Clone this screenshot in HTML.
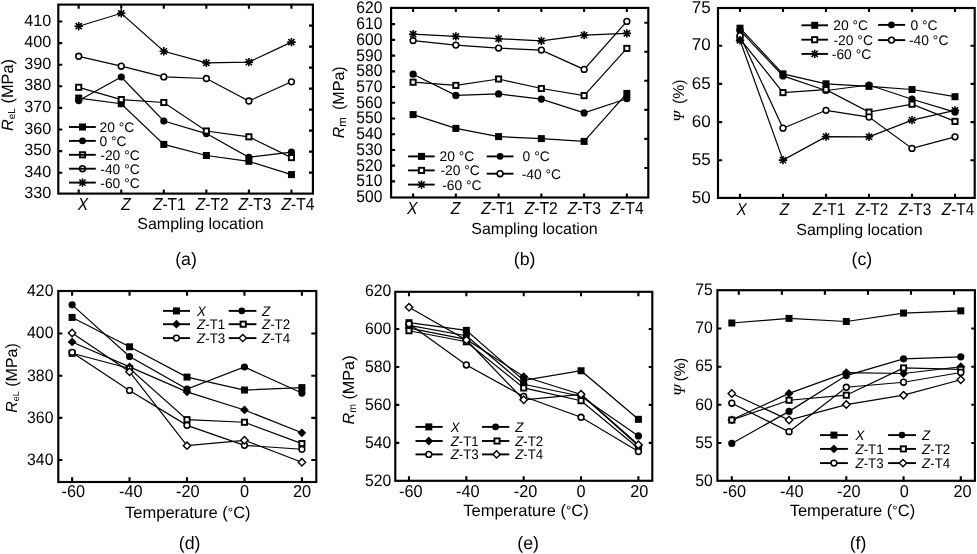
<!DOCTYPE html>
<html lang="en"><head><meta charset="utf-8"><title>Figure</title>
<style>
html,body{margin:0;padding:0;background:#fff;}
body{width:977px;height:554px;overflow:hidden;font-family:"Liberation Sans",sans-serif;}
svg{display:block;}
</style></head><body>
<svg width="977" height="554" viewBox="0 0 977 554" shape-rendering="geometricPrecision" text-rendering="geometricPrecision">
<rect x="58.30" y="4.60" width="254.60" height="189.00" fill="none" stroke="#000" stroke-width="2.15"/>
<path d="M78.70 4.60v4.10M121.25 4.60v4.10M163.80 4.60v4.10M206.35 4.60v4.10M248.90 4.60v4.10M291.45 4.60v4.10" stroke="#000" stroke-width="2.1" fill="none"/>
<path d="M78.70 193.60v-4.10M121.25 193.60v-4.10M163.80 193.60v-4.10M206.35 193.60v-4.10M248.90 193.60v-4.10M291.45 193.60v-4.10" stroke="#000" stroke-width="2.1" fill="none"/>
<path d="M58.30 21.50h3.90M58.30 43.10h3.90M58.30 64.70h3.90M58.30 86.30h3.90M58.30 107.90h3.90M58.30 129.50h3.90M58.30 151.10h3.90M58.30 172.70h3.90" stroke="#000" stroke-width="2.1" fill="none"/>
<path d="M312.90 25.60h-3.90M312.90 46.60h-3.90M312.90 67.60h-3.90M312.90 88.60h-3.90M312.90 109.60h-3.90M312.90 130.60h-3.90M312.90 151.60h-3.90M312.90 172.60h-3.90" stroke="#000" stroke-width="2.1" fill="none"/>
<text x="51.30" y="25.68" font-size="16.2" text-anchor="end" fill="#000" font-family='"Liberation Sans", sans-serif' >410</text>
<text x="51.30" y="47.28" font-size="16.2" text-anchor="end" fill="#000" font-family='"Liberation Sans", sans-serif' >400</text>
<text x="51.30" y="68.88" font-size="16.2" text-anchor="end" fill="#000" font-family='"Liberation Sans", sans-serif' >390</text>
<text x="51.30" y="90.48" font-size="16.2" text-anchor="end" fill="#000" font-family='"Liberation Sans", sans-serif' >380</text>
<text x="51.30" y="112.08" font-size="16.2" text-anchor="end" fill="#000" font-family='"Liberation Sans", sans-serif' >370</text>
<text x="51.30" y="133.68" font-size="16.2" text-anchor="end" fill="#000" font-family='"Liberation Sans", sans-serif' >360</text>
<text x="51.30" y="155.28" font-size="16.2" text-anchor="end" fill="#000" font-family='"Liberation Sans", sans-serif' >350</text>
<text x="51.30" y="176.88" font-size="16.2" text-anchor="end" fill="#000" font-family='"Liberation Sans", sans-serif' >340</text>
<text x="51.30" y="198.48" font-size="16.2" text-anchor="end" fill="#000" font-family='"Liberation Sans", sans-serif' >330</text>
<text transform="translate(82.90 209.60) scale(0.9 1)" font-size="17.3" text-anchor="middle" fill="#000" font-family='"Liberation Sans", sans-serif' ><tspan font-style="italic">X</tspan></text>
<text transform="translate(126.05 209.60) scale(0.9 1)" font-size="17.3" text-anchor="middle" fill="#000" font-family='"Liberation Sans", sans-serif' ><tspan font-style="italic">Z</tspan></text>
<text transform="translate(169.30 209.60) scale(0.9 1)" font-size="17.3" text-anchor="middle" fill="#000" font-family='"Liberation Sans", sans-serif' ><tspan font-style="italic">Z</tspan>-T1</text>
<text transform="translate(212.25 209.60) scale(0.9 1)" font-size="17.3" text-anchor="middle" fill="#000" font-family='"Liberation Sans", sans-serif' ><tspan font-style="italic">Z</tspan>-T2</text>
<text transform="translate(254.90 209.60) scale(0.9 1)" font-size="17.3" text-anchor="middle" fill="#000" font-family='"Liberation Sans", sans-serif' ><tspan font-style="italic">Z</tspan>-T3</text>
<text transform="translate(297.95 209.60) scale(0.9 1)" font-size="17.3" text-anchor="middle" fill="#000" font-family='"Liberation Sans", sans-serif' ><tspan font-style="italic">Z</tspan>-T4</text>
<text x="200.50" y="229.40" font-size="16.05" text-anchor="middle" fill="#000" font-family='"Liberation Sans", sans-serif' >Sampling location</text>
<text x="186.00" y="265.20" font-size="17.8" text-anchor="middle" fill="#000" font-family='"Liberation Sans", sans-serif' >(a)</text>
<polyline points="78.70,98.10 121.25,103.70 163.80,144.40 206.35,155.50 248.90,161.30 291.45,174.60" fill="none" stroke="#000" stroke-width="1.2"/>
<rect x="75.20" y="94.60" width="7.00" height="7.00" fill="#000"/>
<rect x="117.75" y="100.20" width="7.00" height="7.00" fill="#000"/>
<rect x="160.30" y="140.90" width="7.00" height="7.00" fill="#000"/>
<rect x="202.85" y="152.00" width="7.00" height="7.00" fill="#000"/>
<rect x="245.40" y="157.80" width="7.00" height="7.00" fill="#000"/>
<rect x="287.95" y="171.10" width="7.00" height="7.00" fill="#000"/>
<polyline points="78.70,100.60 121.25,77.00 163.80,121.00 206.35,133.60 248.90,157.30 291.45,152.10" fill="none" stroke="#000" stroke-width="1.2"/>
<circle cx="78.70" cy="100.60" r="3.60" fill="#000"/>
<circle cx="121.25" cy="77.00" r="3.60" fill="#000"/>
<circle cx="163.80" cy="121.00" r="3.60" fill="#000"/>
<circle cx="206.35" cy="133.60" r="3.60" fill="#000"/>
<circle cx="248.90" cy="157.30" r="3.60" fill="#000"/>
<circle cx="291.45" cy="152.10" r="3.60" fill="#000"/>
<polyline points="78.70,87.30 121.25,99.60 163.80,102.50 206.35,131.00 248.90,136.80 291.45,157.60" fill="none" stroke="#000" stroke-width="1.2"/>
<rect x="76.10" y="84.70" width="5.20" height="5.20" fill="#fff" stroke="#000" stroke-width="1.9"/>
<rect x="118.65" y="97.00" width="5.20" height="5.20" fill="#fff" stroke="#000" stroke-width="1.9"/>
<rect x="161.20" y="99.90" width="5.20" height="5.20" fill="#fff" stroke="#000" stroke-width="1.9"/>
<rect x="203.75" y="128.40" width="5.20" height="5.20" fill="#fff" stroke="#000" stroke-width="1.9"/>
<rect x="246.30" y="134.20" width="5.20" height="5.20" fill="#fff" stroke="#000" stroke-width="1.9"/>
<rect x="288.85" y="155.00" width="5.20" height="5.20" fill="#fff" stroke="#000" stroke-width="1.9"/>
<polyline points="78.70,56.30 121.25,66.20 163.80,76.90 206.35,78.50 248.90,101.00 291.45,81.80" fill="none" stroke="#000" stroke-width="1.2"/>
<circle cx="78.70" cy="56.30" r="2.90" fill="#fff" stroke="#000" stroke-width="1.55"/>
<circle cx="121.25" cy="66.20" r="2.90" fill="#fff" stroke="#000" stroke-width="1.55"/>
<circle cx="163.80" cy="76.90" r="2.90" fill="#fff" stroke="#000" stroke-width="1.55"/>
<circle cx="206.35" cy="78.50" r="2.90" fill="#fff" stroke="#000" stroke-width="1.55"/>
<circle cx="248.90" cy="101.00" r="2.90" fill="#fff" stroke="#000" stroke-width="1.55"/>
<circle cx="291.45" cy="81.80" r="2.90" fill="#fff" stroke="#000" stroke-width="1.55"/>
<polyline points="78.70,26.20 121.25,13.30 163.80,51.30 206.35,62.90 248.90,62.10 291.45,42.10" fill="none" stroke="#000" stroke-width="1.2"/>
<path d="M78.70 22.00V30.40M74.50 26.20H82.90M75.60 23.10L81.80 29.30M75.60 29.30L81.80 23.10" stroke="#000" stroke-width="1.6" fill="none"/>
<path d="M121.25 9.10V17.50M117.05 13.30H125.45M118.15 10.20L124.35 16.40M118.15 16.40L124.35 10.20" stroke="#000" stroke-width="1.6" fill="none"/>
<path d="M163.80 47.10V55.50M159.60 51.30H168.00M160.70 48.20L166.90 54.40M160.70 54.40L166.90 48.20" stroke="#000" stroke-width="1.6" fill="none"/>
<path d="M206.35 58.70V67.10M202.15 62.90H210.55M203.25 59.80L209.45 66.00M203.25 66.00L209.45 59.80" stroke="#000" stroke-width="1.6" fill="none"/>
<path d="M248.90 57.90V66.30M244.70 62.10H253.10M245.80 59.00L252.00 65.20M245.80 65.20L252.00 59.00" stroke="#000" stroke-width="1.6" fill="none"/>
<path d="M291.45 37.90V46.30M287.25 42.10H295.65M288.35 39.00L294.55 45.20M288.35 45.20L294.55 39.00" stroke="#000" stroke-width="1.6" fill="none"/>
<text transform="translate(12.60 95.00) rotate(-90)" font-size="16.4" text-anchor="middle" fill="#000" font-family='"Liberation Sans", sans-serif'><tspan font-style="italic">R</tspan><tspan font-size="10.0" dy="2">eL</tspan><tspan dy="-2" dx="0"> (MPa)</tspan></text>
<rect x="79.00" y="123.50" width="7.00" height="7.00" fill="#000"/><path d="M69.00 127.00H95.80" stroke="#000" stroke-width="1.9"/><text x="99.50" y="131.99" font-size="13.85" text-anchor="start" fill="#000" font-family='"Liberation Sans", sans-serif' >20 °C</text>
<circle cx="82.50" cy="140.90" r="3.31" fill="#000"/><path d="M69.00 140.90H95.80" stroke="#000" stroke-width="1.9"/><text x="99.50" y="145.89" font-size="13.85" text-anchor="start" fill="#000" font-family='"Liberation Sans", sans-serif' >0 °C</text>
<rect x="79.90" y="152.20" width="5.20" height="5.20" fill="#fff" stroke="#000" stroke-width="1.9"/><path d="M69.00 154.80H95.80" stroke="#000" stroke-width="1.9"/><text x="100.30" y="159.79" font-size="13.85" text-anchor="start" fill="#000" font-family='"Liberation Sans", sans-serif' >-20 °C</text>
<circle cx="82.50" cy="168.70" r="2.90" fill="#fff" stroke="#000" stroke-width="1.55"/><path d="M69.00 168.70H95.80" stroke="#000" stroke-width="1.9"/><text x="100.30" y="173.69" font-size="13.85" text-anchor="start" fill="#000" font-family='"Liberation Sans", sans-serif' >-40 °C</text>
<path d="M82.50 178.40V186.80M78.30 182.60H86.70M79.40 179.50L85.60 185.70M79.40 185.70L85.60 179.50" stroke="#000" stroke-width="1.6" fill="none"/><path d="M69.00 182.60H95.80" stroke="#000" stroke-width="1.9"/><text x="100.30" y="187.59" font-size="13.85" text-anchor="start" fill="#000" font-family='"Liberation Sans", sans-serif' >-60 °C</text>
<rect x="391.10" y="7.90" width="257.20" height="189.60" fill="none" stroke="#000" stroke-width="2.15"/>
<path d="M413.10 7.90v4.10M455.85 7.90v4.10M498.60 7.90v4.10M541.35 7.90v4.10M584.10 7.90v4.10M626.85 7.90v4.10" stroke="#000" stroke-width="2.1" fill="none"/>
<path d="M413.10 197.50v-4.10M455.85 197.50v-4.10M498.60 197.50v-4.10M541.35 197.50v-4.10M584.10 197.50v-4.10M626.85 197.50v-4.10" stroke="#000" stroke-width="2.1" fill="none"/>
<path d="M391.10 24.17h4.00M391.10 39.89h4.00M391.10 55.61h4.00M391.10 71.33h4.00M391.10 87.05h4.00M391.10 102.77h4.00M391.10 118.49h4.00M391.10 134.21h4.00M391.10 149.93h4.00M391.10 165.65h4.00M391.10 181.37h4.00" stroke="#000" stroke-width="2.1" fill="none"/>
<path d="M648.30 22.70h-4.00M648.30 51.75h-4.00M648.30 80.80h-4.00M648.30 109.85h-4.00M648.30 138.90h-4.00M648.30 167.95h-4.00" stroke="#000" stroke-width="2.1" fill="none"/>
<text transform="translate(382.40 13.37) scale(0.926 1)" font-size="16.85" text-anchor="end" fill="#000" font-family='"Liberation Sans", sans-serif' >620</text>
<text transform="translate(382.40 29.09) scale(0.926 1)" font-size="16.85" text-anchor="end" fill="#000" font-family='"Liberation Sans", sans-serif' >610</text>
<text transform="translate(382.40 44.81) scale(0.926 1)" font-size="16.85" text-anchor="end" fill="#000" font-family='"Liberation Sans", sans-serif' >600</text>
<text transform="translate(382.40 60.53) scale(0.926 1)" font-size="16.85" text-anchor="end" fill="#000" font-family='"Liberation Sans", sans-serif' >590</text>
<text transform="translate(382.40 76.25) scale(0.926 1)" font-size="16.85" text-anchor="end" fill="#000" font-family='"Liberation Sans", sans-serif' >580</text>
<text transform="translate(382.40 91.97) scale(0.926 1)" font-size="16.85" text-anchor="end" fill="#000" font-family='"Liberation Sans", sans-serif' >570</text>
<text transform="translate(382.40 107.69) scale(0.926 1)" font-size="16.85" text-anchor="end" fill="#000" font-family='"Liberation Sans", sans-serif' >560</text>
<text transform="translate(382.40 123.41) scale(0.926 1)" font-size="16.85" text-anchor="end" fill="#000" font-family='"Liberation Sans", sans-serif' >550</text>
<text transform="translate(382.40 139.13) scale(0.926 1)" font-size="16.85" text-anchor="end" fill="#000" font-family='"Liberation Sans", sans-serif' >540</text>
<text transform="translate(382.40 154.85) scale(0.926 1)" font-size="16.85" text-anchor="end" fill="#000" font-family='"Liberation Sans", sans-serif' >530</text>
<text transform="translate(382.40 170.57) scale(0.926 1)" font-size="16.85" text-anchor="end" fill="#000" font-family='"Liberation Sans", sans-serif' >520</text>
<text transform="translate(382.40 186.29) scale(0.926 1)" font-size="16.85" text-anchor="end" fill="#000" font-family='"Liberation Sans", sans-serif' >510</text>
<text transform="translate(382.40 202.01) scale(0.926 1)" font-size="16.85" text-anchor="end" fill="#000" font-family='"Liberation Sans", sans-serif' >500</text>
<text transform="translate(412.20 213.70) scale(0.91 1)" font-size="17.3" text-anchor="middle" fill="#000" font-family='"Liberation Sans", sans-serif' ><tspan font-style="italic">X</tspan></text>
<text transform="translate(455.45 213.70) scale(0.91 1)" font-size="17.3" text-anchor="middle" fill="#000" font-family='"Liberation Sans", sans-serif' ><tspan font-style="italic">Z</tspan></text>
<text transform="translate(497.90 213.70) scale(0.91 1)" font-size="17.3" text-anchor="middle" fill="#000" font-family='"Liberation Sans", sans-serif' ><tspan font-style="italic">Z</tspan>-T1</text>
<text transform="translate(541.25 213.70) scale(0.91 1)" font-size="17.3" text-anchor="middle" fill="#000" font-family='"Liberation Sans", sans-serif' ><tspan font-style="italic">Z</tspan>-T2</text>
<text transform="translate(584.30 213.70) scale(0.91 1)" font-size="17.3" text-anchor="middle" fill="#000" font-family='"Liberation Sans", sans-serif' ><tspan font-style="italic">Z</tspan>-T3</text>
<text transform="translate(627.05 213.70) scale(0.91 1)" font-size="17.3" text-anchor="middle" fill="#000" font-family='"Liberation Sans", sans-serif' ><tspan font-style="italic">Z</tspan>-T4</text>
<text x="534.50" y="233.80" font-size="16.05" text-anchor="middle" fill="#000" font-family='"Liberation Sans", sans-serif' >Sampling location</text>
<text x="524.60" y="265.20" font-size="17.8" text-anchor="middle" fill="#000" font-family='"Liberation Sans", sans-serif' >(b)</text>
<polyline points="413.10,114.60 455.85,128.40 498.60,136.60 541.35,138.60 584.10,141.40 626.85,93.40" fill="none" stroke="#000" stroke-width="1.2"/>
<rect x="409.60" y="111.10" width="7.00" height="7.00" fill="#000"/>
<rect x="452.35" y="124.90" width="7.00" height="7.00" fill="#000"/>
<rect x="495.10" y="133.10" width="7.00" height="7.00" fill="#000"/>
<rect x="537.85" y="135.10" width="7.00" height="7.00" fill="#000"/>
<rect x="580.60" y="137.90" width="7.00" height="7.00" fill="#000"/>
<rect x="623.35" y="89.90" width="7.00" height="7.00" fill="#000"/>
<polyline points="413.10,74.20 455.85,95.40 498.60,93.90 541.35,99.10 584.10,112.90 626.85,98.70" fill="none" stroke="#000" stroke-width="1.2"/>
<circle cx="413.10" cy="74.20" r="3.60" fill="#000"/>
<circle cx="455.85" cy="95.40" r="3.60" fill="#000"/>
<circle cx="498.60" cy="93.90" r="3.60" fill="#000"/>
<circle cx="541.35" cy="99.10" r="3.60" fill="#000"/>
<circle cx="584.10" cy="112.90" r="3.60" fill="#000"/>
<circle cx="626.85" cy="98.70" r="3.60" fill="#000"/>
<polyline points="413.10,82.20 455.85,85.40 498.60,79.00 541.35,88.50 584.10,95.60 626.85,48.40" fill="none" stroke="#000" stroke-width="1.2"/>
<rect x="410.50" y="79.60" width="5.20" height="5.20" fill="#fff" stroke="#000" stroke-width="1.9"/>
<rect x="453.25" y="82.80" width="5.20" height="5.20" fill="#fff" stroke="#000" stroke-width="1.9"/>
<rect x="496.00" y="76.40" width="5.20" height="5.20" fill="#fff" stroke="#000" stroke-width="1.9"/>
<rect x="538.75" y="85.90" width="5.20" height="5.20" fill="#fff" stroke="#000" stroke-width="1.9"/>
<rect x="581.50" y="93.00" width="5.20" height="5.20" fill="#fff" stroke="#000" stroke-width="1.9"/>
<rect x="624.25" y="45.80" width="5.20" height="5.20" fill="#fff" stroke="#000" stroke-width="1.9"/>
<polyline points="413.10,40.60 455.85,45.10 498.60,48.10 541.35,50.10 584.10,69.40 626.85,21.40" fill="none" stroke="#000" stroke-width="1.2"/>
<circle cx="413.10" cy="40.60" r="2.90" fill="#fff" stroke="#000" stroke-width="1.55"/>
<circle cx="455.85" cy="45.10" r="2.90" fill="#fff" stroke="#000" stroke-width="1.55"/>
<circle cx="498.60" cy="48.10" r="2.90" fill="#fff" stroke="#000" stroke-width="1.55"/>
<circle cx="541.35" cy="50.10" r="2.90" fill="#fff" stroke="#000" stroke-width="1.55"/>
<circle cx="584.10" cy="69.40" r="2.90" fill="#fff" stroke="#000" stroke-width="1.55"/>
<circle cx="626.85" cy="21.40" r="2.90" fill="#fff" stroke="#000" stroke-width="1.55"/>
<polyline points="413.10,34.20 455.85,36.40 498.60,38.70 541.35,40.90 584.10,35.10 626.85,33.40" fill="none" stroke="#000" stroke-width="1.2"/>
<path d="M413.10 30.00V38.40M408.90 34.20H417.30M410.00 31.10L416.20 37.30M410.00 37.30L416.20 31.10" stroke="#000" stroke-width="1.6" fill="none"/>
<path d="M455.85 32.20V40.60M451.65 36.40H460.05M452.75 33.30L458.95 39.50M452.75 39.50L458.95 33.30" stroke="#000" stroke-width="1.6" fill="none"/>
<path d="M498.60 34.50V42.90M494.40 38.70H502.80M495.50 35.60L501.70 41.80M495.50 41.80L501.70 35.60" stroke="#000" stroke-width="1.6" fill="none"/>
<path d="M541.35 36.70V45.10M537.15 40.90H545.55M538.25 37.80L544.45 44.00M538.25 44.00L544.45 37.80" stroke="#000" stroke-width="1.6" fill="none"/>
<path d="M584.10 30.90V39.30M579.90 35.10H588.30M581.00 32.00L587.20 38.20M581.00 38.20L587.20 32.00" stroke="#000" stroke-width="1.6" fill="none"/>
<path d="M626.85 29.20V37.60M622.65 33.40H631.05M623.75 30.30L629.95 36.50M623.75 36.50L629.95 30.30" stroke="#000" stroke-width="1.6" fill="none"/>
<text transform="translate(344.30 102.30) rotate(-90)" font-size="16.1" text-anchor="middle" fill="#000" font-family='"Liberation Sans", sans-serif'><tspan font-style="italic">R</tspan><tspan font-size="11.5" dy="2">m</tspan><tspan dy="-2" dx="2.5"> (MPa)</tspan></text>
<path d="M408.10 156.40H434.70" stroke="#000" stroke-width="1.9"/><rect x="418.00" y="152.90" width="7.00" height="7.00" fill="#000"/><text x="439.60" y="161.39" font-size="13.85" text-anchor="start" fill="#000" font-family='"Liberation Sans", sans-serif' >20 °C</text>
<path d="M408.10 170.40H434.70" stroke="#000" stroke-width="1.9"/><rect x="418.90" y="167.80" width="5.20" height="5.20" fill="#fff" stroke="#000" stroke-width="1.9"/><text x="440.40" y="175.39" font-size="13.85" text-anchor="start" fill="#000" font-family='"Liberation Sans", sans-serif' >-20 °C</text>
<path d="M408.10 184.60H434.70" stroke="#000" stroke-width="1.9"/><path d="M421.50 180.40V188.80M417.30 184.60H425.70M418.40 181.50L424.60 187.70M418.40 187.70L424.60 181.50" stroke="#000" stroke-width="1.6" fill="none"/><text x="442.20" y="189.59" font-size="13.85" text-anchor="start" fill="#000" font-family='"Liberation Sans", sans-serif' >-60 °C</text>
<path d="M486.70 156.40H513.50" stroke="#000" stroke-width="1.9"/><circle cx="500.10" cy="156.40" r="3.31" fill="#000"/><text x="522.60" y="161.39" font-size="13.85" text-anchor="start" fill="#000" font-family='"Liberation Sans", sans-serif' >0 °C</text>
<path d="M486.70 173.70H513.50" stroke="#000" stroke-width="1.9"/><circle cx="500.10" cy="173.70" r="2.90" fill="#fff" stroke="#000" stroke-width="1.55"/><text x="521.70" y="178.69" font-size="13.85" text-anchor="start" fill="#000" font-family='"Liberation Sans", sans-serif' >-40 °C</text>
<rect x="718.00" y="8.00" width="256.70" height="189.90" fill="none" stroke="#000" stroke-width="2.15"/>
<path d="M740.00 8.00v4.10M783.00 8.00v4.10M826.00 8.00v4.10M869.00 8.00v4.10M912.00 8.00v4.10M955.00 8.00v4.10" stroke="#000" stroke-width="2.1" fill="none"/>
<path d="M740.00 197.90v-4.10M783.00 197.90v-4.10M826.00 197.90v-4.10M869.00 197.90v-4.10M912.00 197.90v-4.10M955.00 197.90v-4.10" stroke="#000" stroke-width="2.1" fill="none"/>
<path d="M718.00 45.80h4.20M718.00 83.90h4.20M718.00 122.10h4.20M718.00 160.30h4.20" stroke="#000" stroke-width="2.1" fill="none"/>
<path d="M974.70 45.80h-4.20M974.70 83.90h-4.20M974.70 122.10h-4.20M974.70 160.30h-4.20" stroke="#000" stroke-width="2.1" fill="none"/>
<text x="710.60" y="12.52" font-size="17.0" text-anchor="end" fill="#000" font-family='"Liberation Sans", sans-serif' >75</text>
<text x="710.60" y="50.42" font-size="17.0" text-anchor="end" fill="#000" font-family='"Liberation Sans", sans-serif' >70</text>
<text x="710.60" y="88.52" font-size="17.0" text-anchor="end" fill="#000" font-family='"Liberation Sans", sans-serif' >65</text>
<text x="710.60" y="126.72" font-size="17.0" text-anchor="end" fill="#000" font-family='"Liberation Sans", sans-serif' >60</text>
<text x="710.60" y="164.92" font-size="17.0" text-anchor="end" fill="#000" font-family='"Liberation Sans", sans-serif' >55</text>
<text x="710.60" y="202.52" font-size="17.0" text-anchor="end" fill="#000" font-family='"Liberation Sans", sans-serif' >50</text>
<text transform="translate(741.50 214.80) scale(0.9 1)" font-size="17.0" text-anchor="middle" fill="#000" font-family='"Liberation Sans", sans-serif' ><tspan font-style="italic">X</tspan></text>
<text transform="translate(784.50 214.80) scale(0.9 1)" font-size="17.0" text-anchor="middle" fill="#000" font-family='"Liberation Sans", sans-serif' ><tspan font-style="italic">Z</tspan></text>
<text transform="translate(829.00 214.80) scale(0.9 1)" font-size="17.0" text-anchor="middle" fill="#000" font-family='"Liberation Sans", sans-serif' ><tspan font-style="italic">Z</tspan>-T1</text>
<text transform="translate(872.00 214.80) scale(0.9 1)" font-size="17.0" text-anchor="middle" fill="#000" font-family='"Liberation Sans", sans-serif' ><tspan font-style="italic">Z</tspan>-T2</text>
<text transform="translate(915.00 214.80) scale(0.9 1)" font-size="17.0" text-anchor="middle" fill="#000" font-family='"Liberation Sans", sans-serif' ><tspan font-style="italic">Z</tspan>-T3</text>
<text transform="translate(958.00 214.80) scale(0.9 1)" font-size="17.0" text-anchor="middle" fill="#000" font-family='"Liberation Sans", sans-serif' ><tspan font-style="italic">Z</tspan>-T4</text>
<text x="859.50" y="234.50" font-size="16.05" text-anchor="middle" fill="#000" font-family='"Liberation Sans", sans-serif' >Sampling location</text>
<text x="861.90" y="265.20" font-size="17.8" text-anchor="middle" fill="#000" font-family='"Liberation Sans", sans-serif' >(c)</text>
<polyline points="740.00,28.20 783.00,73.90 826.00,83.80 869.00,86.40 912.00,89.50 955.00,96.70" fill="none" stroke="#000" stroke-width="1.2"/>
<rect x="736.50" y="24.70" width="7.00" height="7.00" fill="#000"/>
<rect x="779.50" y="70.40" width="7.00" height="7.00" fill="#000"/>
<rect x="822.50" y="80.30" width="7.00" height="7.00" fill="#000"/>
<rect x="865.50" y="82.90" width="7.00" height="7.00" fill="#000"/>
<rect x="908.50" y="86.00" width="7.00" height="7.00" fill="#000"/>
<rect x="951.50" y="93.20" width="7.00" height="7.00" fill="#000"/>
<polyline points="740.00,30.40 783.00,75.90 826.00,90.50 869.00,85.00 912.00,99.20 955.00,112.10" fill="none" stroke="#000" stroke-width="1.2"/>
<circle cx="740.00" cy="30.40" r="3.60" fill="#000"/>
<circle cx="783.00" cy="75.90" r="3.60" fill="#000"/>
<circle cx="826.00" cy="90.50" r="3.60" fill="#000"/>
<circle cx="869.00" cy="85.00" r="3.60" fill="#000"/>
<circle cx="912.00" cy="99.20" r="3.60" fill="#000"/>
<circle cx="955.00" cy="112.10" r="3.60" fill="#000"/>
<polyline points="740.00,38.80 783.00,92.60 826.00,89.60 869.00,112.10 912.00,104.20 955.00,121.40" fill="none" stroke="#000" stroke-width="1.2"/>
<rect x="737.40" y="36.20" width="5.20" height="5.20" fill="#fff" stroke="#000" stroke-width="1.9"/>
<rect x="780.40" y="90.00" width="5.20" height="5.20" fill="#fff" stroke="#000" stroke-width="1.9"/>
<rect x="823.40" y="87.00" width="5.20" height="5.20" fill="#fff" stroke="#000" stroke-width="1.9"/>
<rect x="866.40" y="109.50" width="5.20" height="5.20" fill="#fff" stroke="#000" stroke-width="1.9"/>
<rect x="909.40" y="101.60" width="5.20" height="5.20" fill="#fff" stroke="#000" stroke-width="1.9"/>
<rect x="952.40" y="118.80" width="5.20" height="5.20" fill="#fff" stroke="#000" stroke-width="1.9"/>
<polyline points="740.00,35.70 783.00,128.20 826.00,110.30 869.00,117.10 912.00,148.40 955.00,136.80" fill="none" stroke="#000" stroke-width="1.2"/>
<circle cx="740.00" cy="35.70" r="2.90" fill="#fff" stroke="#000" stroke-width="1.55"/>
<circle cx="783.00" cy="128.20" r="2.90" fill="#fff" stroke="#000" stroke-width="1.55"/>
<circle cx="826.00" cy="110.30" r="2.90" fill="#fff" stroke="#000" stroke-width="1.55"/>
<circle cx="869.00" cy="117.10" r="2.90" fill="#fff" stroke="#000" stroke-width="1.55"/>
<circle cx="912.00" cy="148.40" r="2.90" fill="#fff" stroke="#000" stroke-width="1.55"/>
<circle cx="955.00" cy="136.80" r="2.90" fill="#fff" stroke="#000" stroke-width="1.55"/>
<polyline points="740.00,40.30 783.00,160.10 826.00,136.60 869.00,136.80 912.00,120.10 955.00,110.40" fill="none" stroke="#000" stroke-width="1.2"/>
<path d="M740.00 36.10V44.50M735.80 40.30H744.20M736.90 37.20L743.10 43.40M736.90 43.40L743.10 37.20" stroke="#000" stroke-width="1.6" fill="none"/>
<path d="M783.00 155.90V164.30M778.80 160.10H787.20M779.90 157.00L786.10 163.20M779.90 163.20L786.10 157.00" stroke="#000" stroke-width="1.6" fill="none"/>
<path d="M826.00 132.40V140.80M821.80 136.60H830.20M822.90 133.50L829.10 139.70M822.90 139.70L829.10 133.50" stroke="#000" stroke-width="1.6" fill="none"/>
<path d="M869.00 132.60V141.00M864.80 136.80H873.20M865.90 133.70L872.10 139.90M865.90 139.90L872.10 133.70" stroke="#000" stroke-width="1.6" fill="none"/>
<path d="M912.00 115.90V124.30M907.80 120.10H916.20M908.90 117.00L915.10 123.20M908.90 123.20L915.10 117.00" stroke="#000" stroke-width="1.6" fill="none"/>
<path d="M955.00 106.20V114.60M950.80 110.40H959.20M951.90 107.30L958.10 113.50M951.90 113.50L958.10 107.30" stroke="#000" stroke-width="1.6" fill="none"/>
<text transform="translate(683.90 100.60) rotate(-90)" font-size="15.8" text-anchor="middle" fill="#000" font-family='"Liberation Sans", sans-serif'><tspan font-style="italic" font-family='"Liberation Serif", "DejaVu Serif", serif' font-size="15.4">Ψ</tspan><tspan dx="2.5"> (%)</tspan></text>
<path d="M801.40 25.30H828.10" stroke="#000" stroke-width="1.9"/><rect x="811.20" y="21.80" width="7.00" height="7.00" fill="#000"/><text x="833.20" y="30.29" font-size="13.85" text-anchor="start" fill="#000" font-family='"Liberation Sans", sans-serif' >20 °C</text>
<path d="M801.40 39.70H828.10" stroke="#000" stroke-width="1.9"/><rect x="812.10" y="37.10" width="5.20" height="5.20" fill="#fff" stroke="#000" stroke-width="1.9"/><text x="833.50" y="44.69" font-size="13.85" text-anchor="start" fill="#000" font-family='"Liberation Sans", sans-serif' >-20 °C</text>
<path d="M801.40 53.90H828.10" stroke="#000" stroke-width="1.9"/><path d="M814.70 49.70V58.10M810.50 53.90H818.90M811.60 50.80L817.80 57.00M811.60 57.00L817.80 50.80" stroke="#000" stroke-width="1.6" fill="none"/><text x="831.80" y="58.89" font-size="13.85" text-anchor="start" fill="#000" font-family='"Liberation Sans", sans-serif' >-60 °C</text>
<path d="M878.10 24.90H905.20" stroke="#000" stroke-width="1.9"/><circle cx="891.50" cy="24.90" r="3.31" fill="#000"/><text x="910.40" y="29.89" font-size="13.85" text-anchor="start" fill="#000" font-family='"Liberation Sans", sans-serif' >0 °C</text>
<path d="M878.10 40.10H905.20" stroke="#000" stroke-width="1.9"/><circle cx="891.50" cy="40.10" r="2.90" fill="#fff" stroke="#000" stroke-width="1.55"/><text x="909.00" y="45.09" font-size="13.85" text-anchor="start" fill="#000" font-family='"Liberation Sans", sans-serif' >-40 °C</text>
<rect x="58.30" y="291.00" width="258.00" height="191.00" fill="none" stroke="#000" stroke-width="2.15"/>
<path d="M72.10 291.00v4.70M129.55 291.00v4.70M187.00 291.00v4.70M244.45 291.00v4.70M301.90 291.00v4.70" stroke="#000" stroke-width="2.1" fill="none"/>
<path d="M72.10 482.00v-4.70M129.55 482.00v-4.70M187.00 482.00v-4.70M244.45 482.00v-4.70M301.90 482.00v-4.70" stroke="#000" stroke-width="2.1" fill="none"/>
<path d="M58.30 333.55h4.00M58.30 375.70h4.00M58.30 417.85h4.00M58.30 460.00h4.00" stroke="#000" stroke-width="2.1" fill="none"/>
<path d="M316.30 333.55h-5.00M316.30 375.70h-5.00M316.30 417.85h-5.00M316.30 460.00h-5.00" stroke="#000" stroke-width="2.1" fill="none"/>
<text transform="translate(53.40 296.20) scale(0.95 1)" font-size="16.6" text-anchor="end" fill="#000" font-family='"Liberation Sans", sans-serif' >420</text>
<text transform="translate(53.40 338.35) scale(0.95 1)" font-size="16.6" text-anchor="end" fill="#000" font-family='"Liberation Sans", sans-serif' >400</text>
<text transform="translate(53.40 380.50) scale(0.95 1)" font-size="16.6" text-anchor="end" fill="#000" font-family='"Liberation Sans", sans-serif' >380</text>
<text transform="translate(53.40 422.65) scale(0.95 1)" font-size="16.6" text-anchor="end" fill="#000" font-family='"Liberation Sans", sans-serif' >360</text>
<text transform="translate(53.40 464.80) scale(0.95 1)" font-size="16.6" text-anchor="end" fill="#000" font-family='"Liberation Sans", sans-serif' >340</text>
<text transform="translate(73.30 496.60) scale(0.948 1)" font-size="17.2" text-anchor="middle" fill="#000" font-family='"Liberation Sans", sans-serif' >-60</text>
<text transform="translate(130.75 496.60) scale(0.948 1)" font-size="17.2" text-anchor="middle" fill="#000" font-family='"Liberation Sans", sans-serif' >-40</text>
<text transform="translate(187.80 496.60) scale(0.948 1)" font-size="17.2" text-anchor="middle" fill="#000" font-family='"Liberation Sans", sans-serif' >-20</text>
<text transform="translate(244.65 496.60) scale(0.948 1)" font-size="17.2" text-anchor="middle" fill="#000" font-family='"Liberation Sans", sans-serif' >0</text>
<text transform="translate(302.10 496.60) scale(0.948 1)" font-size="17.2" text-anchor="middle" fill="#000" font-family='"Liberation Sans", sans-serif' >20</text>
<text x="187.80" y="517.70" font-size="16.5" text-anchor="middle" fill="#000" font-family='"Liberation Sans", sans-serif' >Temperature (<tspan font-size="13.4" dy="-1.0">°</tspan><tspan dy="1.0">C)</tspan></text>
<text x="189.60" y="549.00" font-size="17.8" text-anchor="middle" fill="#000" font-family='"Liberation Sans", sans-serif' >(d)</text>
<polyline points="72.10,317.45 129.55,346.82 187.00,377.07 244.45,390.04 301.90,387.60" fill="none" stroke="#000" stroke-width="1.2"/>
<rect x="68.60" y="313.95" width="7.00" height="7.00" fill="#000"/>
<rect x="126.05" y="343.32" width="7.00" height="7.00" fill="#000"/>
<rect x="183.50" y="373.57" width="7.00" height="7.00" fill="#000"/>
<rect x="240.95" y="386.54" width="7.00" height="7.00" fill="#000"/>
<rect x="298.40" y="384.10" width="7.00" height="7.00" fill="#000"/>
<polyline points="72.10,304.86 129.55,356.48 187.00,389.07 244.45,367.02 301.90,393.07" fill="none" stroke="#000" stroke-width="1.2"/>
<circle cx="72.10" cy="304.86" r="3.60" fill="#000"/>
<circle cx="129.55" cy="356.48" r="3.60" fill="#000"/>
<circle cx="187.00" cy="389.07" r="3.60" fill="#000"/>
<circle cx="244.45" cy="367.02" r="3.60" fill="#000"/>
<circle cx="301.90" cy="393.07" r="3.60" fill="#000"/>
<polyline points="72.10,341.94 129.55,366.92 187.00,391.90 244.45,409.95 301.90,432.78" fill="none" stroke="#000" stroke-width="1.2"/>
<path d="M67.70 341.94L72.10 337.54L76.50 341.94L72.10 346.34Z" fill="#000"/>
<path d="M125.15 366.92L129.55 362.52L133.95 366.92L129.55 371.32Z" fill="#000"/>
<path d="M182.60 391.90L187.00 387.50L191.40 391.90L187.00 396.30Z" fill="#000"/>
<path d="M240.05 409.95L244.45 405.55L248.85 409.95L244.45 414.35Z" fill="#000"/>
<path d="M297.50 432.78L301.90 428.38L306.30 432.78L301.90 437.18Z" fill="#000"/>
<polyline points="72.10,353.26 129.55,368.48 187.00,419.70 244.45,422.24 301.90,443.61" fill="none" stroke="#000" stroke-width="1.2"/>
<rect x="69.50" y="350.66" width="5.20" height="5.20" fill="#fff" stroke="#000" stroke-width="1.9"/>
<rect x="126.95" y="365.88" width="5.20" height="5.20" fill="#fff" stroke="#000" stroke-width="1.9"/>
<rect x="184.40" y="417.10" width="5.20" height="5.20" fill="#fff" stroke="#000" stroke-width="1.9"/>
<rect x="241.85" y="419.64" width="5.20" height="5.20" fill="#fff" stroke="#000" stroke-width="1.9"/>
<rect x="299.30" y="441.01" width="5.20" height="5.20" fill="#fff" stroke="#000" stroke-width="1.9"/>
<polyline points="72.10,352.48 129.55,390.43 187.00,425.36 244.45,445.36 301.90,449.27" fill="none" stroke="#000" stroke-width="1.2"/>
<circle cx="72.10" cy="352.48" r="2.90" fill="#fff" stroke="#000" stroke-width="1.55"/>
<circle cx="129.55" cy="390.43" r="2.90" fill="#fff" stroke="#000" stroke-width="1.55"/>
<circle cx="187.00" cy="425.36" r="2.90" fill="#fff" stroke="#000" stroke-width="1.55"/>
<circle cx="244.45" cy="445.36" r="2.90" fill="#fff" stroke="#000" stroke-width="1.55"/>
<circle cx="301.90" cy="449.27" r="2.90" fill="#fff" stroke="#000" stroke-width="1.55"/>
<polyline points="72.10,332.96 129.55,371.70 187.00,445.66 244.45,440.29 301.90,462.24" fill="none" stroke="#000" stroke-width="1.2"/>
<path d="M68.40 332.96L72.10 329.26L75.80 332.96L72.10 336.66Z" fill="#fff" stroke="#000" stroke-width="1.4"/>
<path d="M125.85 371.70L129.55 368.00L133.25 371.70L129.55 375.40Z" fill="#fff" stroke="#000" stroke-width="1.4"/>
<path d="M183.30 445.66L187.00 441.96L190.70 445.66L187.00 449.36Z" fill="#fff" stroke="#000" stroke-width="1.4"/>
<path d="M240.75 440.29L244.45 436.59L248.15 440.29L244.45 443.99Z" fill="#fff" stroke="#000" stroke-width="1.4"/>
<path d="M298.20 462.24L301.90 458.54L305.60 462.24L301.90 465.94Z" fill="#fff" stroke="#000" stroke-width="1.4"/>
<path d="M163.00 310.90H190.00" stroke="#000" stroke-width="1.9"/><rect x="172.90" y="307.40" width="7.00" height="7.00" fill="#000"/><text transform="translate(197.10 315.89) scale(0.96 1)" font-size="13.85" text-anchor="start" fill="#000" font-family='"Liberation Sans", sans-serif' ><tspan font-style="italic">X</tspan></text>
<path d="M163.00 324.20H190.00" stroke="#000" stroke-width="1.9"/><path d="M172.00 324.20L176.40 319.80L180.80 324.20L176.40 328.60Z" fill="#000"/><text transform="translate(197.10 329.19) scale(0.96 1)" font-size="13.85" text-anchor="start" fill="#000" font-family='"Liberation Sans", sans-serif' ><tspan font-style="italic">Z</tspan>-T1</text>
<path d="M163.00 338.10H190.00" stroke="#000" stroke-width="1.9"/><circle cx="176.40" cy="338.10" r="2.90" fill="#fff" stroke="#000" stroke-width="1.55"/><text transform="translate(197.10 343.09) scale(0.96 1)" font-size="13.85" text-anchor="start" fill="#000" font-family='"Liberation Sans", sans-serif' ><tspan font-style="italic">Z</tspan>-T3</text>
<path d="M228.70 310.90H256.40" stroke="#000" stroke-width="1.9"/><circle cx="241.80" cy="310.90" r="3.31" fill="#000"/><text transform="translate(262.00 315.89) scale(0.96 1)" font-size="13.85" text-anchor="start" fill="#000" font-family='"Liberation Sans", sans-serif' ><tspan font-style="italic">Z</tspan></text>
<path d="M228.70 324.20H256.40" stroke="#000" stroke-width="1.9"/><rect x="240.60" y="321.60" width="5.20" height="5.20" fill="#fff" stroke="#000" stroke-width="1.9"/><text transform="translate(262.00 329.19) scale(0.96 1)" font-size="13.85" text-anchor="start" fill="#000" font-family='"Liberation Sans", sans-serif' ><tspan font-style="italic">Z</tspan>-T2</text>
<path d="M228.70 338.10H256.40" stroke="#000" stroke-width="1.9"/><path d="M239.10 338.10L242.80 334.40L246.50 338.10L242.80 341.80Z" fill="#fff" stroke="#000" stroke-width="1.4"/><text transform="translate(262.00 343.09) scale(0.96 1)" font-size="13.85" text-anchor="start" fill="#000" font-family='"Liberation Sans", sans-serif' ><tspan font-style="italic">Z</tspan>-T4</text>
<text transform="translate(17.20 378.00) rotate(-90)" font-size="16.0" text-anchor="middle" fill="#000" font-family='"Liberation Sans", sans-serif'><tspan font-style="italic">R</tspan><tspan font-size="9.0" dy="2">eL</tspan><tspan dy="-2" dx="0"> (MPa)</tspan></text>
<rect x="395.30" y="291.80" width="257.00" height="189.00" fill="none" stroke="#000" stroke-width="2.15"/>
<path d="M409.00 291.80v4.50M466.35 291.80v4.50M523.70 291.80v4.50M581.05 291.80v4.50M638.40 291.80v4.50" stroke="#000" stroke-width="2.1" fill="none"/>
<path d="M409.00 480.80v-4.50M466.35 480.80v-4.50M523.70 480.80v-4.50M581.05 480.80v-4.50M638.40 480.80v-4.50" stroke="#000" stroke-width="2.1" fill="none"/>
<path d="M395.30 329.04h4.00M395.30 366.98h4.00M395.30 404.92h4.00M395.30 442.86h4.00" stroke="#000" stroke-width="2.1" fill="none"/>
<path d="M652.30 329.04h-3.60M652.30 366.98h-3.60M652.30 404.92h-3.60M652.30 442.86h-3.60" stroke="#000" stroke-width="2.1" fill="none"/>
<text transform="translate(391.30 295.90) scale(0.95 1)" font-size="16.6" text-anchor="end" fill="#000" font-family='"Liberation Sans", sans-serif' >620</text>
<text transform="translate(391.30 333.84) scale(0.95 1)" font-size="16.6" text-anchor="end" fill="#000" font-family='"Liberation Sans", sans-serif' >600</text>
<text transform="translate(391.30 371.78) scale(0.95 1)" font-size="16.6" text-anchor="end" fill="#000" font-family='"Liberation Sans", sans-serif' >580</text>
<text transform="translate(391.30 409.72) scale(0.95 1)" font-size="16.6" text-anchor="end" fill="#000" font-family='"Liberation Sans", sans-serif' >560</text>
<text transform="translate(391.30 447.66) scale(0.95 1)" font-size="16.6" text-anchor="end" fill="#000" font-family='"Liberation Sans", sans-serif' >540</text>
<text transform="translate(391.30 485.60) scale(0.95 1)" font-size="16.6" text-anchor="end" fill="#000" font-family='"Liberation Sans", sans-serif' >520</text>
<text transform="translate(410.90 496.60) scale(0.948 1)" font-size="17.2" text-anchor="middle" fill="#000" font-family='"Liberation Sans", sans-serif' >-60</text>
<text transform="translate(467.75 496.60) scale(0.948 1)" font-size="17.2" text-anchor="middle" fill="#000" font-family='"Liberation Sans", sans-serif' >-40</text>
<text transform="translate(525.60 496.60) scale(0.948 1)" font-size="17.2" text-anchor="middle" fill="#000" font-family='"Liberation Sans", sans-serif' >-20</text>
<text transform="translate(581.15 496.60) scale(0.948 1)" font-size="17.2" text-anchor="middle" fill="#000" font-family='"Liberation Sans", sans-serif' >0</text>
<text transform="translate(639.30 496.60) scale(0.948 1)" font-size="17.2" text-anchor="middle" fill="#000" font-family='"Liberation Sans", sans-serif' >20</text>
<text x="526.00" y="515.90" font-size="16.5" text-anchor="middle" fill="#000" font-family='"Liberation Sans", sans-serif' >Temperature (<tspan font-size="13.4" dy="-1.0">°</tspan><tspan dy="1.0">C)</tspan></text>
<text x="528.10" y="549.00" font-size="17.8" text-anchor="middle" fill="#000" font-family='"Liberation Sans", sans-serif' >(e)</text>
<polyline points="409.00,322.67 466.35,330.36 523.70,380.37 581.05,370.75 638.40,419.32" fill="none" stroke="#000" stroke-width="1.2"/>
<rect x="405.50" y="319.17" width="7.00" height="7.00" fill="#000"/>
<rect x="462.85" y="326.86" width="7.00" height="7.00" fill="#000"/>
<rect x="520.20" y="376.87" width="7.00" height="7.00" fill="#000"/>
<rect x="577.55" y="367.25" width="7.00" height="7.00" fill="#000"/>
<rect x="634.90" y="415.82" width="7.00" height="7.00" fill="#000"/>
<polyline points="409.00,325.31 466.35,335.77 523.70,384.22 581.05,396.24 638.40,435.91" fill="none" stroke="#000" stroke-width="1.2"/>
<circle cx="409.00" cy="325.31" r="3.60" fill="#000"/>
<circle cx="466.35" cy="335.77" r="3.60" fill="#000"/>
<circle cx="523.70" cy="384.22" r="3.60" fill="#000"/>
<circle cx="581.05" cy="396.24" r="3.60" fill="#000"/>
<circle cx="638.40" cy="435.91" r="3.60" fill="#000"/>
<polyline points="409.00,328.08 466.35,339.38 523.70,376.53 581.05,394.44 638.40,445.77" fill="none" stroke="#000" stroke-width="1.2"/>
<path d="M404.60 328.08L409.00 323.68L413.40 328.08L409.00 332.48Z" fill="#000"/>
<path d="M461.95 339.38L466.35 334.98L470.75 339.38L466.35 343.78Z" fill="#000"/>
<path d="M519.30 376.53L523.70 372.13L528.10 376.53L523.70 380.93Z" fill="#000"/>
<path d="M576.65 394.44L581.05 390.04L585.45 394.44L581.05 398.84Z" fill="#000"/>
<path d="M634.00 445.77L638.40 441.37L642.80 445.77L638.40 450.17Z" fill="#000"/>
<polyline points="409.00,330.72 466.35,341.78 523.70,387.95 581.05,400.69 638.40,448.17" fill="none" stroke="#000" stroke-width="1.2"/>
<rect x="406.40" y="328.12" width="5.20" height="5.20" fill="#fff" stroke="#000" stroke-width="1.9"/>
<rect x="463.75" y="339.18" width="5.20" height="5.20" fill="#fff" stroke="#000" stroke-width="1.9"/>
<rect x="521.10" y="385.35" width="5.20" height="5.20" fill="#fff" stroke="#000" stroke-width="1.9"/>
<rect x="578.45" y="398.09" width="5.20" height="5.20" fill="#fff" stroke="#000" stroke-width="1.9"/>
<rect x="635.80" y="445.57" width="5.20" height="5.20" fill="#fff" stroke="#000" stroke-width="1.9"/>
<polyline points="409.00,323.75 466.35,364.98 523.70,396.48 581.05,417.28 638.40,451.54" fill="none" stroke="#000" stroke-width="1.2"/>
<circle cx="409.00" cy="323.75" r="2.90" fill="#fff" stroke="#000" stroke-width="1.55"/>
<circle cx="466.35" cy="364.98" r="2.90" fill="#fff" stroke="#000" stroke-width="1.55"/>
<circle cx="523.70" cy="396.48" r="2.90" fill="#fff" stroke="#000" stroke-width="1.55"/>
<circle cx="581.05" cy="417.28" r="2.90" fill="#fff" stroke="#000" stroke-width="1.55"/>
<circle cx="638.40" cy="451.54" r="2.90" fill="#fff" stroke="#000" stroke-width="1.55"/>
<polyline points="409.00,307.22 466.35,340.04 523.70,399.80 581.05,394.30 638.40,444.76" fill="none" stroke="#000" stroke-width="1.2"/>
<path d="M405.30 307.22L409.00 303.52L412.70 307.22L409.00 310.92Z" fill="#fff" stroke="#000" stroke-width="1.4"/>
<path d="M462.65 340.04L466.35 336.34L470.05 340.04L466.35 343.74Z" fill="#fff" stroke="#000" stroke-width="1.4"/>
<path d="M520.00 399.80L523.70 396.10L527.40 399.80L523.70 403.50Z" fill="#fff" stroke="#000" stroke-width="1.4"/>
<path d="M577.35 394.30L581.05 390.60L584.75 394.30L581.05 398.00Z" fill="#fff" stroke="#000" stroke-width="1.4"/>
<path d="M634.70 444.76L638.40 441.06L642.10 444.76L638.40 448.46Z" fill="#fff" stroke="#000" stroke-width="1.4"/>
<path d="M415.50 426.90H442.70" stroke="#000" stroke-width="1.9"/><rect x="425.30" y="423.40" width="7.00" height="7.00" fill="#000"/><text transform="translate(450.70 431.89) scale(0.96 1)" font-size="13.85" text-anchor="start" fill="#000" font-family='"Liberation Sans", sans-serif' ><tspan font-style="italic">X</tspan></text>
<path d="M415.50 441.00H442.70" stroke="#000" stroke-width="1.9"/><path d="M424.40 441.00L428.80 436.60L433.20 441.00L428.80 445.40Z" fill="#000"/><text transform="translate(450.70 445.99) scale(0.96 1)" font-size="13.85" text-anchor="start" fill="#000" font-family='"Liberation Sans", sans-serif' ><tspan font-style="italic">Z</tspan>-T1</text>
<path d="M415.50 454.40H442.70" stroke="#000" stroke-width="1.9"/><circle cx="428.80" cy="454.40" r="2.90" fill="#fff" stroke="#000" stroke-width="1.55"/><text transform="translate(450.70 459.39) scale(0.96 1)" font-size="13.85" text-anchor="start" fill="#000" font-family='"Liberation Sans", sans-serif' ><tspan font-style="italic">Z</tspan>-T3</text>
<path d="M482.00 426.90H509.30" stroke="#000" stroke-width="1.9"/><circle cx="495.60" cy="426.90" r="3.31" fill="#000"/><text transform="translate(515.20 431.89) scale(0.96 1)" font-size="13.85" text-anchor="start" fill="#000" font-family='"Liberation Sans", sans-serif' ><tspan font-style="italic">Z</tspan></text>
<path d="M482.00 441.00H509.30" stroke="#000" stroke-width="1.9"/><rect x="494.40" y="438.40" width="5.20" height="5.20" fill="#fff" stroke="#000" stroke-width="1.9"/><text transform="translate(515.20 445.99) scale(0.96 1)" font-size="13.85" text-anchor="start" fill="#000" font-family='"Liberation Sans", sans-serif' ><tspan font-style="italic">Z</tspan>-T2</text>
<path d="M482.00 454.40H509.30" stroke="#000" stroke-width="1.9"/><path d="M492.90 454.40L496.60 450.70L500.30 454.40L496.60 458.10Z" fill="#fff" stroke="#000" stroke-width="1.4"/><text transform="translate(515.20 459.39) scale(0.96 1)" font-size="13.85" text-anchor="start" fill="#000" font-family='"Liberation Sans", sans-serif' ><tspan font-style="italic">Z</tspan>-T4</text>
<text transform="translate(353.70 390.00) rotate(-90)" font-size="16.2" text-anchor="middle" fill="#000" font-family='"Liberation Sans", sans-serif'><tspan font-style="italic">R</tspan><tspan font-size="10.5" dy="2">m</tspan><tspan dy="-2" dx="0"> (MPa)</tspan></text>
<rect x="717.40" y="290.20" width="257.50" height="190.60" fill="none" stroke="#000" stroke-width="2.15"/>
<path d="M738.80 290.20v4.50M781.85 290.20v4.50M824.90 290.20v4.50M867.95 290.20v4.50M911.00 290.20v4.50M954.05 290.20v4.50" stroke="#000" stroke-width="2.1" fill="none"/>
<path d="M731.80 480.80v-4.50M789.05 480.80v-4.50M846.30 480.80v-4.50M903.55 480.80v-4.50M960.80 480.80v-4.50" stroke="#000" stroke-width="2.1" fill="none"/>
<path d="M717.40 328.57h4.00M717.40 366.69h4.00M717.40 404.81h4.00M717.40 442.93h4.00" stroke="#000" stroke-width="2.1" fill="none"/>
<path d="M974.90 328.57h-3.60M974.90 366.69h-3.60M974.90 404.81h-3.60M974.90 442.93h-3.60" stroke="#000" stroke-width="2.1" fill="none"/>
<text transform="translate(712.90 295.25) scale(0.95 1)" font-size="16.6" text-anchor="end" fill="#000" font-family='"Liberation Sans", sans-serif' >75</text>
<text transform="translate(712.90 333.37) scale(0.95 1)" font-size="16.6" text-anchor="end" fill="#000" font-family='"Liberation Sans", sans-serif' >70</text>
<text transform="translate(712.90 371.49) scale(0.95 1)" font-size="16.6" text-anchor="end" fill="#000" font-family='"Liberation Sans", sans-serif' >65</text>
<text transform="translate(712.90 409.61) scale(0.95 1)" font-size="16.6" text-anchor="end" fill="#000" font-family='"Liberation Sans", sans-serif' >60</text>
<text transform="translate(712.90 447.73) scale(0.95 1)" font-size="16.6" text-anchor="end" fill="#000" font-family='"Liberation Sans", sans-serif' >55</text>
<text transform="translate(712.90 485.85) scale(0.95 1)" font-size="16.6" text-anchor="end" fill="#000" font-family='"Liberation Sans", sans-serif' >50</text>
<text transform="translate(734.30 496.60) scale(0.948 1)" font-size="17.2" text-anchor="middle" fill="#000" font-family='"Liberation Sans", sans-serif' >-60</text>
<text transform="translate(791.75 496.60) scale(0.948 1)" font-size="17.2" text-anchor="middle" fill="#000" font-family='"Liberation Sans", sans-serif' >-40</text>
<text transform="translate(848.90 496.60) scale(0.948 1)" font-size="17.2" text-anchor="middle" fill="#000" font-family='"Liberation Sans", sans-serif' >-20</text>
<text transform="translate(904.25 496.60) scale(0.948 1)" font-size="17.2" text-anchor="middle" fill="#000" font-family='"Liberation Sans", sans-serif' >0</text>
<text transform="translate(962.60 496.60) scale(0.948 1)" font-size="17.2" text-anchor="middle" fill="#000" font-family='"Liberation Sans", sans-serif' >20</text>
<text x="852.40" y="516.40" font-size="16.5" text-anchor="middle" fill="#000" font-family='"Liberation Sans", sans-serif' >Temperature (<tspan font-size="13.4" dy="-1.0">°</tspan><tspan dy="1.0">C)</tspan></text>
<text x="858.10" y="549.00" font-size="17.8" text-anchor="middle" fill="#000" font-family='"Liberation Sans", sans-serif' >(f)</text>
<polyline points="731.80,323.02 789.05,318.40 846.30,321.51 903.55,313.07 960.80,310.86" fill="none" stroke="#000" stroke-width="1.2"/>
<rect x="728.30" y="319.52" width="7.00" height="7.00" fill="#000"/>
<rect x="785.55" y="314.90" width="7.00" height="7.00" fill="#000"/>
<rect x="842.80" y="318.01" width="7.00" height="7.00" fill="#000"/>
<rect x="900.05" y="309.57" width="7.00" height="7.00" fill="#000"/>
<rect x="957.30" y="307.36" width="7.00" height="7.00" fill="#000"/>
<polyline points="731.80,443.45 789.05,411.38 846.30,375.60 903.55,358.81 960.80,356.80" fill="none" stroke="#000" stroke-width="1.2"/>
<circle cx="731.80" cy="443.45" r="3.60" fill="#000"/>
<circle cx="789.05" cy="411.38" r="3.60" fill="#000"/>
<circle cx="846.30" cy="375.60" r="3.60" fill="#000"/>
<circle cx="903.55" cy="358.81" r="3.60" fill="#000"/>
<circle cx="960.80" cy="356.80" r="3.60" fill="#000"/>
<polyline points="731.80,419.83 789.05,393.39 846.30,372.58 903.55,373.49 960.80,366.75" fill="none" stroke="#000" stroke-width="1.2"/>
<path d="M727.40 419.83L731.80 415.43L736.20 419.83L731.80 424.23Z" fill="#000"/>
<path d="M784.65 393.39L789.05 388.99L793.45 393.39L789.05 397.79Z" fill="#000"/>
<path d="M841.90 372.58L846.30 368.18L850.70 372.58L846.30 376.98Z" fill="#000"/>
<path d="M899.15 373.49L903.55 369.09L907.95 373.49L903.55 377.89Z" fill="#000"/>
<path d="M956.40 366.75L960.80 362.35L965.20 366.75L960.80 371.15Z" fill="#000"/>
<polyline points="731.80,420.03 789.05,400.23 846.30,395.20 903.55,367.96 960.80,369.36" fill="none" stroke="#000" stroke-width="1.2"/>
<rect x="729.20" y="417.43" width="5.20" height="5.20" fill="#fff" stroke="#000" stroke-width="1.9"/>
<rect x="786.45" y="397.63" width="5.20" height="5.20" fill="#fff" stroke="#000" stroke-width="1.9"/>
<rect x="843.70" y="392.60" width="5.20" height="5.20" fill="#fff" stroke="#000" stroke-width="1.9"/>
<rect x="900.95" y="365.36" width="5.20" height="5.20" fill="#fff" stroke="#000" stroke-width="1.9"/>
<rect x="958.20" y="366.76" width="5.20" height="5.20" fill="#fff" stroke="#000" stroke-width="1.9"/>
<polyline points="731.80,403.24 789.05,431.69 846.30,387.26 903.55,382.23 960.80,372.48" fill="none" stroke="#000" stroke-width="1.2"/>
<circle cx="731.80" cy="403.24" r="2.90" fill="#fff" stroke="#000" stroke-width="1.55"/>
<circle cx="789.05" cy="431.69" r="2.90" fill="#fff" stroke="#000" stroke-width="1.55"/>
<circle cx="846.30" cy="387.26" r="2.90" fill="#fff" stroke="#000" stroke-width="1.55"/>
<circle cx="903.55" cy="382.23" r="2.90" fill="#fff" stroke="#000" stroke-width="1.55"/>
<circle cx="960.80" cy="372.48" r="2.90" fill="#fff" stroke="#000" stroke-width="1.55"/>
<polyline points="731.80,393.49 789.05,420.03 846.30,404.55 903.55,395.20 960.80,379.72" fill="none" stroke="#000" stroke-width="1.2"/>
<path d="M728.10 393.49L731.80 389.79L735.50 393.49L731.80 397.19Z" fill="#fff" stroke="#000" stroke-width="1.4"/>
<path d="M785.35 420.03L789.05 416.33L792.75 420.03L789.05 423.73Z" fill="#fff" stroke="#000" stroke-width="1.4"/>
<path d="M842.60 404.55L846.30 400.85L850.00 404.55L846.30 408.25Z" fill="#fff" stroke="#000" stroke-width="1.4"/>
<path d="M899.85 395.20L903.55 391.50L907.25 395.20L903.55 398.90Z" fill="#fff" stroke="#000" stroke-width="1.4"/>
<path d="M957.10 379.72L960.80 376.02L964.50 379.72L960.80 383.42Z" fill="#fff" stroke="#000" stroke-width="1.4"/>
<path d="M820.00 435.10H847.90" stroke="#000" stroke-width="1.9"/><rect x="830.40" y="431.60" width="7.00" height="7.00" fill="#000"/><text transform="translate(855.50 440.09) scale(0.96 1)" font-size="13.85" text-anchor="start" fill="#000" font-family='"Liberation Sans", sans-serif' ><tspan font-style="italic">X</tspan></text>
<path d="M820.00 448.90H847.90" stroke="#000" stroke-width="1.9"/><path d="M829.50 448.90L833.90 444.50L838.30 448.90L833.90 453.30Z" fill="#000"/><text transform="translate(855.50 453.89) scale(0.96 1)" font-size="13.85" text-anchor="start" fill="#000" font-family='"Liberation Sans", sans-serif' ><tspan font-style="italic">Z</tspan>-T1</text>
<path d="M820.00 463.10H847.90" stroke="#000" stroke-width="1.9"/><circle cx="833.90" cy="463.10" r="2.90" fill="#fff" stroke="#000" stroke-width="1.55"/><text transform="translate(855.50 468.09) scale(0.96 1)" font-size="13.85" text-anchor="start" fill="#000" font-family='"Liberation Sans", sans-serif' ><tspan font-style="italic">Z</tspan>-T3</text>
<path d="M888.10 435.10H916.00" stroke="#000" stroke-width="1.9"/><circle cx="902.00" cy="435.10" r="3.31" fill="#000"/><text transform="translate(922.10 440.09) scale(0.96 1)" font-size="13.85" text-anchor="start" fill="#000" font-family='"Liberation Sans", sans-serif' ><tspan font-style="italic">Z</tspan></text>
<path d="M888.10 448.90H916.00" stroke="#000" stroke-width="1.9"/><rect x="900.80" y="446.30" width="5.20" height="5.20" fill="#fff" stroke="#000" stroke-width="1.9"/><text transform="translate(922.10 453.89) scale(0.96 1)" font-size="13.85" text-anchor="start" fill="#000" font-family='"Liberation Sans", sans-serif' ><tspan font-style="italic">Z</tspan>-T2</text>
<path d="M888.10 463.10H916.00" stroke="#000" stroke-width="1.9"/><path d="M899.30 463.10L903.00 459.40L906.70 463.10L903.00 466.80Z" fill="#fff" stroke="#000" stroke-width="1.4"/><text transform="translate(922.10 468.09) scale(0.96 1)" font-size="13.85" text-anchor="start" fill="#000" font-family='"Liberation Sans", sans-serif' ><tspan font-style="italic">Z</tspan>-T4</text>
<text transform="translate(684.80 376.80) rotate(-90)" font-size="15.2" text-anchor="middle" fill="#000" font-family='"Liberation Sans", sans-serif'><tspan font-style="italic" font-family='"Liberation Serif", "DejaVu Serif", serif' font-size="16.2">Ψ</tspan><tspan dx="-0.8"> (%)</tspan></text>
</svg>
</body></html>
